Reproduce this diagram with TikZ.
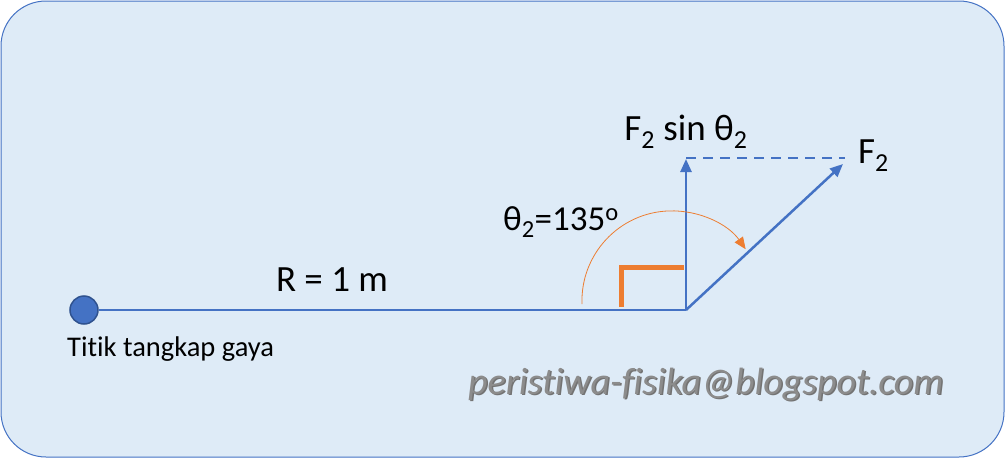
\documentclass[tikz,border=0pt]{standalone}
\usepackage{fontspec}
\setmainfont{Carlito}[Ligatures={NoCommon}]
\usetikzlibrary{arrows.meta}
\definecolor{bgblue}{HTML}{DEEBF7}
\definecolor{lineblue}{HTML}{4472C4}
\definecolor{dotedge}{HTML}{2F528F}
\definecolor{markorange}{HTML}{ED7D31}
\definecolor{wmgray}{HTML}{8C8C8C}
\begin{document}
\begin{tikzpicture}[x=1pt,y=-1pt]
\useasboundingbox (0,0) rectangle (1005,458);
\path[draw=lineblue,fill=bgblue,line width=1pt,rounded corners=45pt] (1,1) rectangle (1004,457);

\node[draw=dotedge,fill=lineblue,circle,minimum size=28pt,inner sep=0pt,line width=1.5pt] (dot) at (84,310) {};
\coordinate (o) at (686,310);
\coordinate (v) at (686,159);
\coordinate (d) at (843,164);
\coordinate (vt) at (686,158);
\coordinate (h) at (845,158);

\path[draw,lineblue,line width=2.5pt] (dot) -- (o);
\path[draw,lineblue,line width=2.5pt,-{Triangle[length=13pt,width=11pt]}] (o) -- (v);
\path[draw,lineblue,line width=2.5pt,-{Triangle[length=13pt,width=11pt]}] (o) -- (d);
\path[draw,lineblue,line width=2pt,dash pattern=on 10pt off 7pt] (vt) -- (h);

\path[draw,markorange,line width=5pt] (621,307) -- (621,267) -- (684,267);
\path[draw,markorange,line width=0.8pt,-{Triangle[length=12pt,width=10pt]}] (582,304) arc[start angle=178, end angle=325, radius=90];

\node[anchor=base] (fsin) at (686,140) {\fontsize{37pt}{44pt}\selectfont F\textsubscript{2} sin θ\textsubscript{2}};
\node[anchor=base west,inner sep=0pt] (f2) at (858,163) {\fontsize{37pt}{44pt}\selectfont F\textsubscript{2}};
\node[anchor=base west,inner sep=0pt] (theta) at (503,230) {\fontsize{35pt}{42pt}\selectfont θ\textsubscript{2}=135\textsuperscript{o}};
\node[anchor=base] (r) at (332,291) {\fontsize{37pt}{44pt}\selectfont R = 1 m};
\node[anchor=base west,inner sep=0pt] (titik) at (67,356) {\fontsize{28.5pt}{34pt}\selectfont Titik tangkap gaya};

\node[anchor=base west,inner sep=0pt,text=black!55] at (469.5,395.5) {\fontsize{38pt}{45pt}\selectfont\itshape peristiwa-fisika@blogspot.com};
\node[anchor=base west,inner sep=0pt,text=wmgray] (wm) at (468,394) {\fontsize{38pt}{45pt}\selectfont\itshape peristiwa-fisika@blogspot.com};
\end{tikzpicture}
\end{document}
